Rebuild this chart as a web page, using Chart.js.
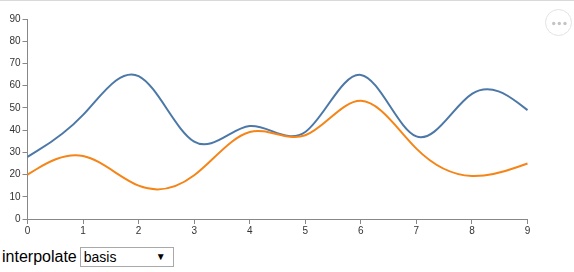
<!DOCTYPE html>
<html>
<head>
<meta charset="utf-8">
<script src="https://cdn.jsdelivr.net/npm/chart.js@4/dist/chart.umd.min.js"></script>
<style>
  html, body { margin:0; padding:0; background:#fff; }
  body { width:574px; height:272px; position:relative; overflow:hidden; font-family:"Liberation Sans", Arial, sans-serif; }
  #topline { position:absolute; left:0; top:0; width:574px; height:1px; background:#d9d9d9; }
  #wrap { position:absolute; left:0; top:0; width:574px; height:242px; }
  #actions { position:absolute; left:545px; top:9px; width:27px; height:27px; border:1px solid #e2e2e2; border-radius:50%; box-sizing:border-box; }
  #actions svg { position:absolute; left:0; top:0; }
  #bind { position:absolute; left:2px; top:247px; display:flex; align-items:center; font-size:16px; color:#000; }
  #bind .sel { position:relative; margin-left:3px; height:20px; }
  #bind select { -webkit-appearance:none; appearance:none; width:94px; height:20px; border:1px solid #a9a9a9; border-radius:0; background:#fff;
    font:14px "Liberation Sans", Arial, sans-serif; padding:0 0 0 3px; margin:0; color:#000; outline:none; display:block; }
  #bind .arrow { position:absolute; right:8px; top:4px; font-size:10px; pointer-events:none; color:#000; }
</style>
</head>
<body>
<div id="topline"></div>
<div id="wrap"><canvas id="chart"></canvas></div>
<div id="actions">
  <svg width="27" height="27" viewBox="0 0 27 27">
    <circle cx="7.7" cy="13.5" r="1.7" fill="#c4c4c4"/>
    <circle cx="13.3" cy="13.5" r="1.7" fill="#c4c4c4"/>
    <circle cx="19" cy="13.5" r="1.7" fill="#c4c4c4"/>
  </svg>
</div>
<div id="bind">
  <span>interpolate</span>
  <span class="sel">
    <select id="interp">
      <option value="basis" selected>basis</option>
      <option value="linear">linear</option>
      <option value="monotone">monotone</option>
      <option value="step">step</option>
    </select>
    <span class="arrow">&#9660;</span>
  </span>
</div>
<script>
// ── Data ─────────────────────────────────────────────────────────────────────
const xValues  = [0, 1, 2, 3, 4, 5, 6, 7, 8, 9];
const series0  = [28, 43, 81, 19, 52, 24, 87, 17, 68, 49];
const series1  = [20, 35, 10, 15, 48, 28, 66, 27, 16, 25];
const seriesColors = ['#4c78a8', '#f58518'];
const yTicks = [0, 10, 20, 30, 40, 50, 60, 70, 80, 90];

let interpolate = 'basis';

// d3-style curveBasis, on the pixel positions the scales computed
function basisPath(ctx, pts) {
  const n = pts.length;
  if (n === 0) return;
  ctx.moveTo(pts[0][0], pts[0][1]);
  if (n === 1) return;
  if (n === 2) { ctx.lineTo(pts[1][0], pts[1][1]); return; }
  ctx.lineTo((5*pts[0][0]+pts[1][0])/6, (5*pts[0][1]+pts[1][1])/6);
  const seg = (a, b, c) => ctx.bezierCurveTo(
    (2*a[0]+b[0])/3, (2*a[1]+b[1])/3,
    (a[0]+2*b[0])/3, (a[1]+2*b[1])/3,
    (a[0]+4*b[0]+c[0])/6, (a[1]+4*b[1]+c[1])/6);
  for (let i = 2; i < n; i++) seg(pts[i-2], pts[i-1], pts[i]);
  seg(pts[n-2], pts[n-1], pts[n-1]);
  ctx.lineTo(pts[n-1][0], pts[n-1][1]);
}

const basisPlugin = {
  id: 'basisCurve',
  afterDatasetsDraw(chart) {
    if (interpolate !== 'basis') return;
    const ctx = chart.ctx, area = chart.chartArea;
    chart.data.datasets.forEach((ds, i) => {
      const meta = chart.getDatasetMeta(i);
      const pts = meta.data.map(p => [p.x, p.y]);
      ctx.save();
      ctx.beginPath(); ctx.rect(area.left-2, area.top-2, area.width+4, area.height+4); ctx.clip();
      ctx.beginPath(); basisPath(ctx, pts);
      ctx.lineWidth = 2; ctx.strokeStyle = ds.borderColor; ctx.lineCap = 'butt'; ctx.lineJoin = 'miter';
      ctx.stroke();
      ctx.restore();
    });
  }
};

const toXY = arr => arr.map((y, i) => ({x: xValues[i], y}));
const axisFont = {family: '"Liberation Sans", Arial, sans-serif', size: 10};

const chart = new Chart(document.getElementById('chart'), {
  type: 'line',
  data: {
    datasets: [
      {data: toXY(series0), borderColor: seriesColors[0], borderWidth: 2, pointRadius: 0, showLine: false, tension: 0},
      {data: toXY(series1), borderColor: seriesColors[1], borderWidth: 2, pointRadius: 0, showLine: false, tension: 0},
    ]
  },
  options: {
    responsive: true, maintainAspectRatio: false, animation: false,
    layout: {padding: {left: 0, top: 19, right: 46.5, bottom: 0}},
    plugins: {legend: {display: false}, tooltip: {enabled: false}},
    scales: {
      x: {
        type: 'linear', min: 0, max: 9,
        grid: {drawOnChartArea: false, drawTicks: true, tickLength: 5, color: '#888', lineWidth: 1},
        border: {display: true, color: '#888', width: 1},
        ticks: {stepSize: 1, color: '#333', font: axisFont, padding: 1, maxRotation: 0, autoSkip: false},
        afterFit: s => { s.height = 23; }
      },
      y: {
        min: 0, max: 90,
        grid: {drawOnChartArea: false, drawTicks: true, tickLength: 5, color: '#888', lineWidth: 1},
        border: {display: true, color: '#888', width: 1},
        ticks: {stepSize: 10, color: '#333', font: axisFont, padding: 2,
          callback: v => yTicks.includes(v) ? String(v) : ''},
        afterFit: s => { s.width = 27.5; }
      }
    }
  },
  plugins: [basisPlugin]
});

document.getElementById('interp').addEventListener('change', e => {
  interpolate = e.target.value;
  chart.data.datasets.forEach(ds => {
    ds.showLine = interpolate !== 'basis';
    ds.stepped = interpolate === 'step' ? 'middle' : false;
    ds.cubicInterpolationMode = interpolate === 'monotone' ? 'monotone' : 'default';
    ds.tension = interpolate === 'monotone' ? 0.4 : 0;
  });
  chart.update();
});
</script>
</body>
</html>
